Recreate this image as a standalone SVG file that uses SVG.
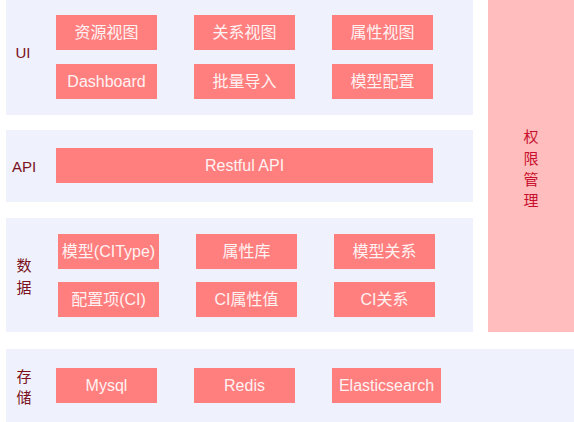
<svg xmlns="http://www.w3.org/2000/svg" width="574" height="422" viewBox="0 0 574 422">
<style>
.panel{fill:#EFF2FD}
.box{fill:#FF7F7F}
.bt{font-family:"Liberation Sans","Noto Sans CJK SC",sans-serif;font-size:16px;fill:#FFF2F2;text-anchor:middle;dominant-baseline:central}
.lbl{font-family:"Liberation Sans","Noto Sans CJK SC",sans-serif;font-size:15px;fill:#7A1020;text-anchor:middle;dominant-baseline:central}
.perm{font-family:"Noto Sans CJK SC",sans-serif;font-size:15px;fill:#C8102E;text-anchor:middle;dominant-baseline:central}
</style>
<rect width="574" height="422" fill="#FFFFFF"/>
<g id="layer-ui">
<rect class="panel" x="6" y="0" width="467" height="115"/>
<text class="lbl" x="23" y="52">UI</text>
</g>
<g id="layer-api">
<rect class="panel" x="6" y="130" width="467" height="72"/>
<text class="lbl" x="24" y="166">API</text>
</g>
<g id="layer-data">
<rect class="panel" x="6" y="218" width="467" height="114"/>
<text class="lbl" x="24" y="265">数</text>
<text class="lbl" x="24" y="287">据</text>
</g>
<g id="layer-storage">
<rect class="panel" x="6" y="349" width="568" height="73"/>
<text class="lbl" x="24" y="376">存</text>
<text class="lbl" x="24" y="397">储</text>
</g>
<g id="perm">
<rect x="488" y="0" width="86" height="332" fill="#FFBDBD"/>
<text class="perm" x="531" y="135">权</text>
<text class="perm" x="531" y="157">限</text>
<text class="perm" x="531" y="178">管</text>
<text class="perm" x="531" y="199">理</text>
</g>
<g id="n-res"><rect class="box" x="56" y="15" width="101" height="35"/><text class="bt" x="106.5" y="32.5">资源视图</text></g>
<g id="n-rel"><rect class="box" x="194" y="15" width="101" height="35"/><text class="bt" x="244.5" y="32.5">关系视图</text></g>
<g id="n-attr"><rect class="box" x="332" y="15" width="101" height="35"/><text class="bt" x="382.5" y="32.5">属性视图</text></g>
<g id="n-dash"><rect class="box" x="56" y="64" width="101" height="35"/><text class="bt" x="106.5" y="81.5">Dashboard</text></g>
<g id="n-import"><rect class="box" x="194" y="64" width="101" height="35"/><text class="bt" x="244.5" y="81.5">批量导入</text></g>
<g id="n-model"><rect class="box" x="332" y="64" width="101" height="35"/><text class="bt" x="382.5" y="81.5">模型配置</text></g>
<g id="n-api"><rect class="box" x="56" y="148" width="377" height="35"/><text class="bt" x="244.5" y="165.5">Restful API</text></g>
<g id="n-citype"><rect class="box" x="58" y="234" width="101" height="35"/><text class="bt" x="108.5" y="251.5">模型(CIType)</text></g>
<g id="n-attrlib"><rect class="box" x="196" y="234" width="101" height="35"/><text class="bt" x="246.5" y="251.5">属性库</text></g>
<g id="n-modelrel"><rect class="box" x="334" y="234" width="101" height="35"/><text class="bt" x="384.5" y="251.5">模型关系</text></g>
<g id="n-ci"><rect class="box" x="58" y="282" width="101" height="35"/><text class="bt" x="108.5" y="299.5">配置项(CI)</text></g>
<g id="n-ciattr"><rect class="box" x="196" y="282" width="101" height="35"/><text class="bt" x="246.5" y="299.5">CI属性值</text></g>
<g id="n-cirel"><rect class="box" x="334" y="282" width="101" height="35"/><text class="bt" x="384.5" y="299.5">CI关系</text></g>
<g id="n-mysql"><rect class="box" x="56" y="368" width="101" height="35"/><text class="bt" x="106.5" y="385.5">Mysql</text></g>
<g id="n-redis"><rect class="box" x="194" y="368" width="101" height="35"/><text class="bt" x="244.5" y="385.5">Redis</text></g>
<g id="n-es"><rect class="box" x="332" y="368" width="109" height="35"/><text class="bt" x="386.5" y="385.5">Elasticsearch</text></g>
<g id="connectors"/>
</svg>
